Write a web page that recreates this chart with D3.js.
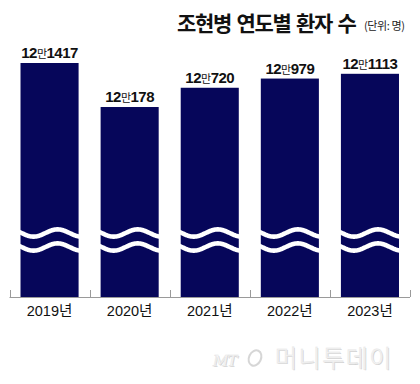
<!DOCTYPE html>
<html>
<head>
<meta charset="utf-8">
<script src="https://cdn.jsdelivr.net/npm/d3@7"></script>
<style>
  html, body { margin: 0; padding: 0; background: #fff; }
  svg { display: block; }
</style>
</head>
<body>
<svg id="chart" width="420" height="384"></svg>
<script>
// ---- data ----
const years = ["2019년", "2020년", "2021년", "2022년", "2023년"];
const patients = [121417, 120178, 120720, 120979, 121113];
const labelMan = ["12", "12", "12", "12", "12"];
const labelRest = ["1417", "178", "720", "979", "1113"];
const titleText = "조현병 연도별 환자 수";
const unitText = "(단위: 명)";

const svg = d3.select("#chart");
const baseY = 297;

const x = d3.scaleBand().domain(years).range([9.5, 410]).paddingInner(0.275).paddingOuter(0.1375);
const y = d3.scaleLinear().domain([114830, 121417]).range([baseY, 63]);

const barColor = "#06065a";

// bars
svg.append("g").selectAll("rect").data(years).join("rect")
  .attr("x", d => x(d))
  .attr("y", (d, i) => y(patients[i]))
  .attr("width", x.bandwidth())
  .attr("height", (d, i) => baseY - y(patients[i]))
  .attr("fill", barColor);

// break waves
const waveG = svg.append("g");
years.forEach(d => {
  const x0 = x(d) - 2.5, x1 = x(d) + x.bandwidth() + 3;
  [233, 247].forEach(cy => {
    const pts = d3.range(x0, x1 + 0.5, 1).map(px => [px, cy + 3.6 * Math.cos(2 * Math.PI * (px - x(d) - 13) / 48)]);
    waveG.append("path")
      .attr("d", d3.line()(pts))
      .attr("fill", "none")
      .attr("stroke", "#fff")
      .attr("stroke-width", 4.6);
  });
});

// axis
const axisG = svg.append("g");
axisG.append("line").attr("x1", 9.5).attr("x2", 410).attr("y1", baseY + 0.5).attr("y2", baseY + 0.5)
  .attr("stroke", "#9a9a9a").attr("stroke-width", 1);
const tickXs = years.map(d => x(d) - x.step() * x.paddingInner() / 2).concat([410]);
axisG.selectAll("line.tick").data(tickXs).join("line").attr("class", "tick")
  .attr("x1", d => Math.round(d) + 0.5).attr("x2", d => Math.round(d) + 0.5)
  .attr("y1", baseY - 7).attr("y2", baseY)
  .attr("stroke", "#9a9a9a").attr("stroke-width", 1);

axisG.selectAll("text").data(years).join("text")
  .attr("x", d => x(d) + x.bandwidth() / 2)
  .attr("y", 316)
  .attr("text-anchor", "middle")
  .attr("font-family", "'Liberation Sans', 'Noto Sans CJK KR', sans-serif")
  .attr("font-size", 14.5)
  .attr("fill", "#111")
  .text(d => d);

// value labels
const vl = svg.append("g").selectAll("text").data(years).join("text")
  .attr("x", d => x(d) + x.bandwidth() / 2)
  .attr("y", (d, i) => y(patients[i]) - 5)
  .attr("text-anchor", "middle")
  .attr("font-family", "'Liberation Sans', 'Noto Sans CJK KR', sans-serif")
  .attr("font-weight", "bold")
  .attr("font-size", 15)
  .attr("letter-spacing", -0.5)
  .attr("fill", "#111");
vl.append("tspan").text((d, i) => labelMan[i]);
vl.append("tspan").attr("font-size", 11).attr("font-weight", "normal")
  .attr("font-family", "'Noto Sans CJK KR', sans-serif").text("만");
vl.append("tspan").text((d, i) => labelRest[i]);

// title
svg.append("text")
  .attr("x", 177).attr("y", 31)
  .attr("font-family", "'Noto Sans CJK KR', sans-serif")
  .attr("font-weight", "bold")
  .attr("font-size", 21)
  .attr("letter-spacing", -1.3)
  .attr("word-spacing", 2)
  .attr("fill", "#111")
  .text(titleText);
svg.append("text")
  .attr("x", 364).attr("y", 30)
  .attr("font-family", "'Noto Sans CJK KR', sans-serif")
  .attr("font-size", 11)
  .attr("letter-spacing", -0.4)
  .attr("fill", "#222")
  .text(unitText);

// watermark
const wm = svg.append("g").attr("opacity", 0.9);
function embossText(tx, ty, txt, size, extra) {
  const t1 = wm.append("text").attr("x", tx + 1).attr("y", ty + 1).attr("font-size", size)
    .attr("fill", "#cdcdcd").text(txt);
  const t2 = wm.append("text").attr("x", tx).attr("y", ty).attr("font-size", size)
    .attr("fill", "#fbfbfb").attr("stroke", "#e4e4e4").attr("stroke-width", 0.6).text(txt);
  [t1, t2].forEach(t => { t.attr("font-family", extra.family).attr("font-style", extra.style || "normal")
    .attr("font-weight", extra.weight || "normal").attr("letter-spacing", extra.ls || 0); });
}
embossText(213, 366, "MT", 15, {family: "'DejaVu Serif', serif", style: "italic", ls: -1});
wm.append("ellipse").attr("cx", 255).attr("cy", 358).attr("rx", 6).attr("ry", 8)
  .attr("transform", "rotate(25,255,358)").attr("fill", "none").attr("stroke", "#d2d2d2").attr("stroke-width", 2);
embossText(275, 367, "머니투데이", 24, {family: "'Noto Sans CJK KR', sans-serif", weight: 300, ls: 1.5});
</script>
</body>
</html>
